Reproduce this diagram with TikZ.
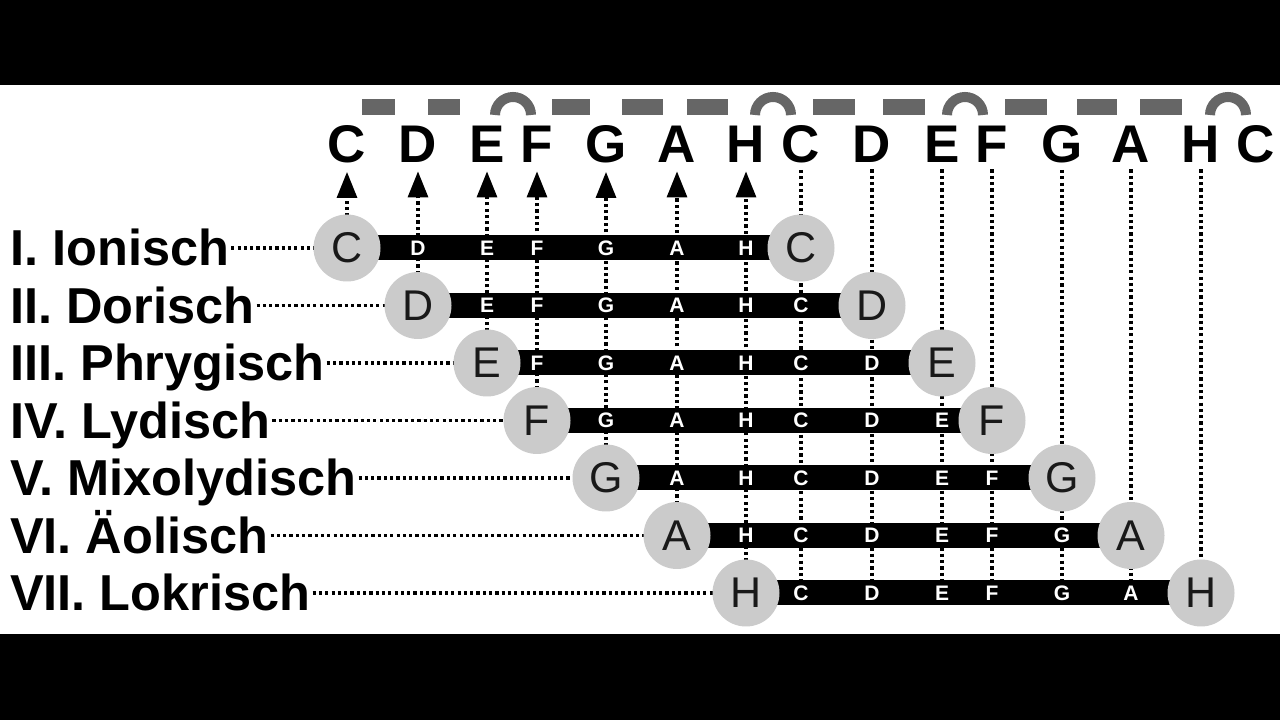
\documentclass[tikz,border=0pt]{standalone}
\usepackage{fontspec}
\setmainfont{Liberation Sans}
\usetikzlibrary{arrows.meta,backgrounds}
\definecolor{tongrau}{HTML}{CBCBCB}
\definecolor{stufengrau}{HTML}{666666}
\newcommand{\tonname}[1]{\ifcase#1\or C\or D\or E\or F\or G\or A\or H\or C\or D\or E\or F\or G\or A\or H\or C\fi}

\begin{document}
\begin{tikzpicture}[x=1pt,y=1pt,
  note/.style={font=\bfseries\fontsize{53}{53}\selectfont, inner sep=0pt},
  mode/.style={font=\bfseries\fontsize{50.5}{50.5}\selectfont, inner sep=0pt, anchor=west, text height=36pt, text depth=0pt},
  tone/.style={circle, fill=tongrau, minimum size=67pt, inner sep=0pt, text=black!90, font=\fontsize{43}{43}\selectfont},
  small/.style={font=\bfseries\fontsize{21}{21}\selectfont, text=white, inner sep=0pt},
  guide/.style={line width=3.2pt, dash pattern=on 3.2pt off 3.1pt},
  bar/.style={line width=25pt},
  halbton/.style={stufengrau, line width=10pt}]
\useasboundingbox (0,0) rectangle (1280,720);

% Tonleiter oben
\foreach \n/\x [count=\i] in {C/347,D/418,E/487,F/537,G/606,A/677,H/746,C/801,D/872,E/942,F/992,G/1062,A/1131,H/1201,C/1256}
  \node[note] (t\i) at (\x,576) {\n};

% Ganztoene und Halbtoene
\foreach \a/\b in {362/395,428/460,552/590,622/663,687/728,813/855,883/925,1005/1047,1077/1117,1140/1182}
  \fill[stufengrau] (\a,605) rectangle (\b,621);
\foreach \x in {513,773,965,1228}
  \draw[halbton] (\x-18,605) arc[start angle=180,end angle=0,radius=18];

% Modi
\node[mode] (l1) at (10,472) {I. Ionisch};
\node[mode] (l2) at (10,414.5) {II. Dorisch};
\node[mode] (l3) at (10,357) {III. Phrygisch};
\node[mode] (l4) at (10,299.5) {IV. Lydisch};
\node[mode] (l5) at (10,242) {V. Mixolydisch};
\node[mode] (l6) at (10,184.5) {VI. Äolisch};
\node[mode] (l7) at (10,127) {VII. Lokrisch};

\foreach \row in {1,...,7} {
  \pgfmathtruncatemacro\ende{\row+7}
  \node[tone] (m\row) at (t\row |- l\row) {\tonname{\row}};
  \node[tone] (n\row) at (t\ende |- l\row) {\tonname{\row}};
  \foreach \j in {1,...,6} {
    \pgfmathtruncatemacro\spalte{\row+\j}
    \node[small] (s\row-\spalte) at (t\spalte |- l\row) {\tonname{\spalte}};
  }
}

\begin{scope}[on background layer]
  \fill[black] (0,0) rectangle (1280,720);
  \fill[white] (0,86) rectangle (1280,635);
  \foreach \i in {1,...,7}
    \draw[guide, shorten >=9pt, -{Triangle[length=26pt,width=20pt]}] (m\i.center) -- (t\i.south);
  \foreach \i in {8,...,13}
    \draw[guide, shorten <=7pt] (t\i.south) -- (s7-\i.center);
  \draw[guide, shorten <=7pt] (t14.south) -- (n7.center);
  \foreach \i in {1,...,7}
    \draw[guide, shorten <=2pt] (l\i.east) -- (m\i.center);
  \foreach \i in {1,...,7}
    \draw[bar] (m\i.center) -- (n\i.center);
\end{scope}
\end{tikzpicture}
\end{document}
